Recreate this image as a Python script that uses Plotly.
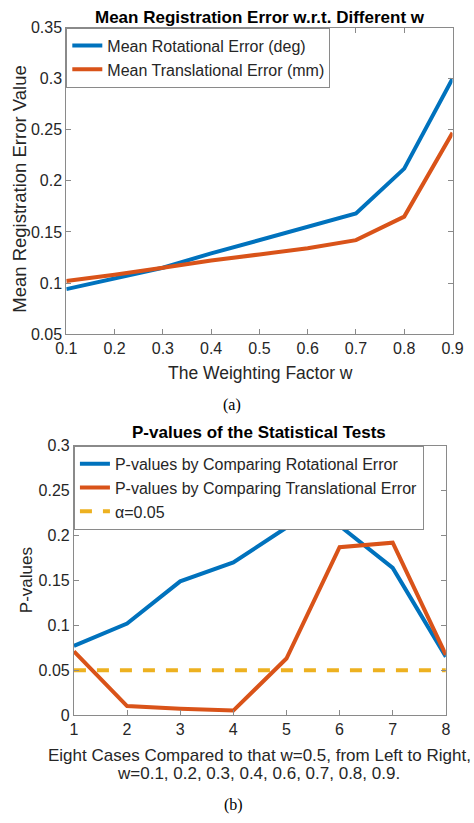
import plotly.graph_objects as go

# ---------------- data ----------------
w_values = [0.1, 0.2, 0.3, 0.4, 0.5, 0.6, 0.7, 0.8, 0.9]
rot_error = [0.094, 0.105, 0.115, 0.129, 0.142, 0.154, 0.168, 0.212, 0.300]
trans_error = [0.102, 0.108, 0.115, 0.122, 0.128, 0.134, 0.142, 0.165, 0.247]

cases = [1, 2, 3, 4, 5, 6, 7, 8]
p_rot = [0.077, 0.102, 0.149, 0.170, 0.209, 0.211, 0.164, 0.065]
p_trans = [0.071, 0.010, 0.007, 0.005, 0.063, 0.187, 0.192, 0.067]
alpha_line = [0.05, 0.05, 0.05, 0.05, 0.05, 0.05, 0.05, 0.05]

top_xticks = [0.1, 0.2, 0.3, 0.4, 0.5, 0.6, 0.7, 0.8, 0.9]
top_yticks = [0.05, 0.1, 0.15, 0.2, 0.25, 0.3, 0.35]
bot_xticks = [1, 2, 3, 4, 5, 6, 7, 8]
bot_yticks = [0, 0.05, 0.1, 0.15, 0.2, 0.25, 0.3]

BLUE = "#0072BD"
ORANGE = "#D95319"
YELLOW = "#EDB120"
W, H = 474, 823
FONT = "Liberation Sans, Arial, sans-serif"
TXT = "#262626"
AX = "#8a8a8a"

def px(x):
    return x / W

def py(y):
    return 1 - y / H

fig = go.Figure()
fig.add_trace(go.Scatter(x=w_values, y=rot_error, mode="lines",
                         line=dict(color=BLUE, width=4),
                         name="Mean Rotational Error (deg)",
                         xaxis="x", yaxis="y", legend="legend"))
fig.add_trace(go.Scatter(x=w_values, y=trans_error, mode="lines",
                         line=dict(color=ORANGE, width=4),
                         name="Mean Translational Error (mm)",
                         xaxis="x", yaxis="y", legend="legend"))
fig.add_trace(go.Scatter(x=cases, y=p_rot, mode="lines",
                         line=dict(color=BLUE, width=4),
                         name="P-values by Comparing Rotational Error",
                         xaxis="x2", yaxis="y2", legend="legend2"))
fig.add_trace(go.Scatter(x=cases, y=p_trans, mode="lines",
                         line=dict(color=ORANGE, width=4),
                         name="P-values by Comparing Translational Error",
                         xaxis="x2", yaxis="y2", legend="legend2"))
fig.add_trace(go.Scatter(x=cases, y=alpha_line, mode="lines",
                         line=dict(color=YELLOW, width=4, dash="12px,11px"),
                         name="α=0.05",
                         xaxis="x2", yaxis="y2", legend="legend2"))

axis_common = dict(showline=True, linecolor=AX, linewidth=1, mirror="allticks",
                   ticks="inside", ticklen=5, tickcolor=AX, showgrid=False,
                   zeroline=False, tickfont=dict(family=FONT, size=16, color=TXT))

fig.update_layout(
    width=W, height=H,
    margin=dict(l=0, r=0, t=0, b=0),
    paper_bgcolor="white", plot_bgcolor="white",
    font=dict(family=FONT, color=TXT),
    xaxis=dict(domain=[px(58), px(463)], range=[0.1, 0.9], tickvals=top_xticks,
               ticktext=[f"{v:g}" for v in top_xticks], anchor="y", **axis_common),
    yaxis=dict(domain=[py(333), py(20)], range=[0.05, 0.35], tickvals=top_yticks,
               ticktext=[f"{v:g}" for v in top_yticks], anchor="x", **axis_common),
    xaxis2=dict(domain=[px(66), px(456)], range=[1, 8], tickvals=bot_xticks,
                anchor="y2", **axis_common),
    yaxis2=dict(domain=[py(722), py(447)], range=[0, 0.3], tickvals=bot_yticks,
                ticktext=[f"{v:g}" for v in bot_yticks], anchor="x2", **axis_common),
    legend=dict(x=px(58), y=py(20), xanchor="left", yanchor="top",
                bgcolor="white", bordercolor=AX, borderwidth=1,
                font=dict(family=FONT, size=16, color=TXT), tracegroupgap=0),
    legend2=dict(x=px(66), y=py(447), xanchor="left", yanchor="top",
                 bgcolor="white", bordercolor=AX, borderwidth=1,
                 font=dict(family=FONT, size=16, color=TXT), tracegroupgap=0),
    showlegend=True,
)

ann = [
    dict(text="<b>Mean Registration Error w.r.t. Different w</b>", x=px(261.5), y=py(10),
         font=dict(family=FONT, size=17, color="black")),
    dict(text="<b>P-values of the Statistical Tests</b>", x=px(260.5), y=py(433),
         font=dict(family=FONT, size=17, color="black")),
    dict(text="Mean Registration Error Value", x=px(9), y=py(185), textangle=-90,
         font=dict(family=FONT, size=18.5, color=TXT)),
    dict(text="P-values", x=px(17), y=py(584), textangle=-90,
         font=dict(family=FONT, size=17, color=TXT)),
    dict(text="The Weighting Factor w", x=px(261.5), y=py(373),
         font=dict(family=FONT, size=17.5, color=TXT)),
    dict(text="Eight Cases Compared to that w=0.5, from Left to Right,", x=px(260.5), y=py(763),
         font=dict(family=FONT, size=17, color=TXT)),
    dict(text="w=0.1, 0.2, 0.3, 0.4, 0.6, 0.7, 0.8, 0.9.", x=px(260), y=py(782),
         font=dict(family=FONT, size=17, color=TXT)),
    dict(text="(a)", x=px(232), y=py(405),
         font=dict(family="Liberation Serif, Times New Roman, serif", size=16, color="black")),
    dict(text="(b)", x=px(233), y=py(814),
         font=dict(family="Liberation Serif, Times New Roman, serif", size=16, color="black")),
]
for a in ann:
    a.update(xref="paper", yref="paper", showarrow=False, xanchor="center", yanchor="middle")
fig.update_layout(annotations=ann)

fig.write_html("out.html",
               config={"displayModeBar": False},
               post_script="document.body.style.margin='0';document.body.style.overflow='hidden';")
